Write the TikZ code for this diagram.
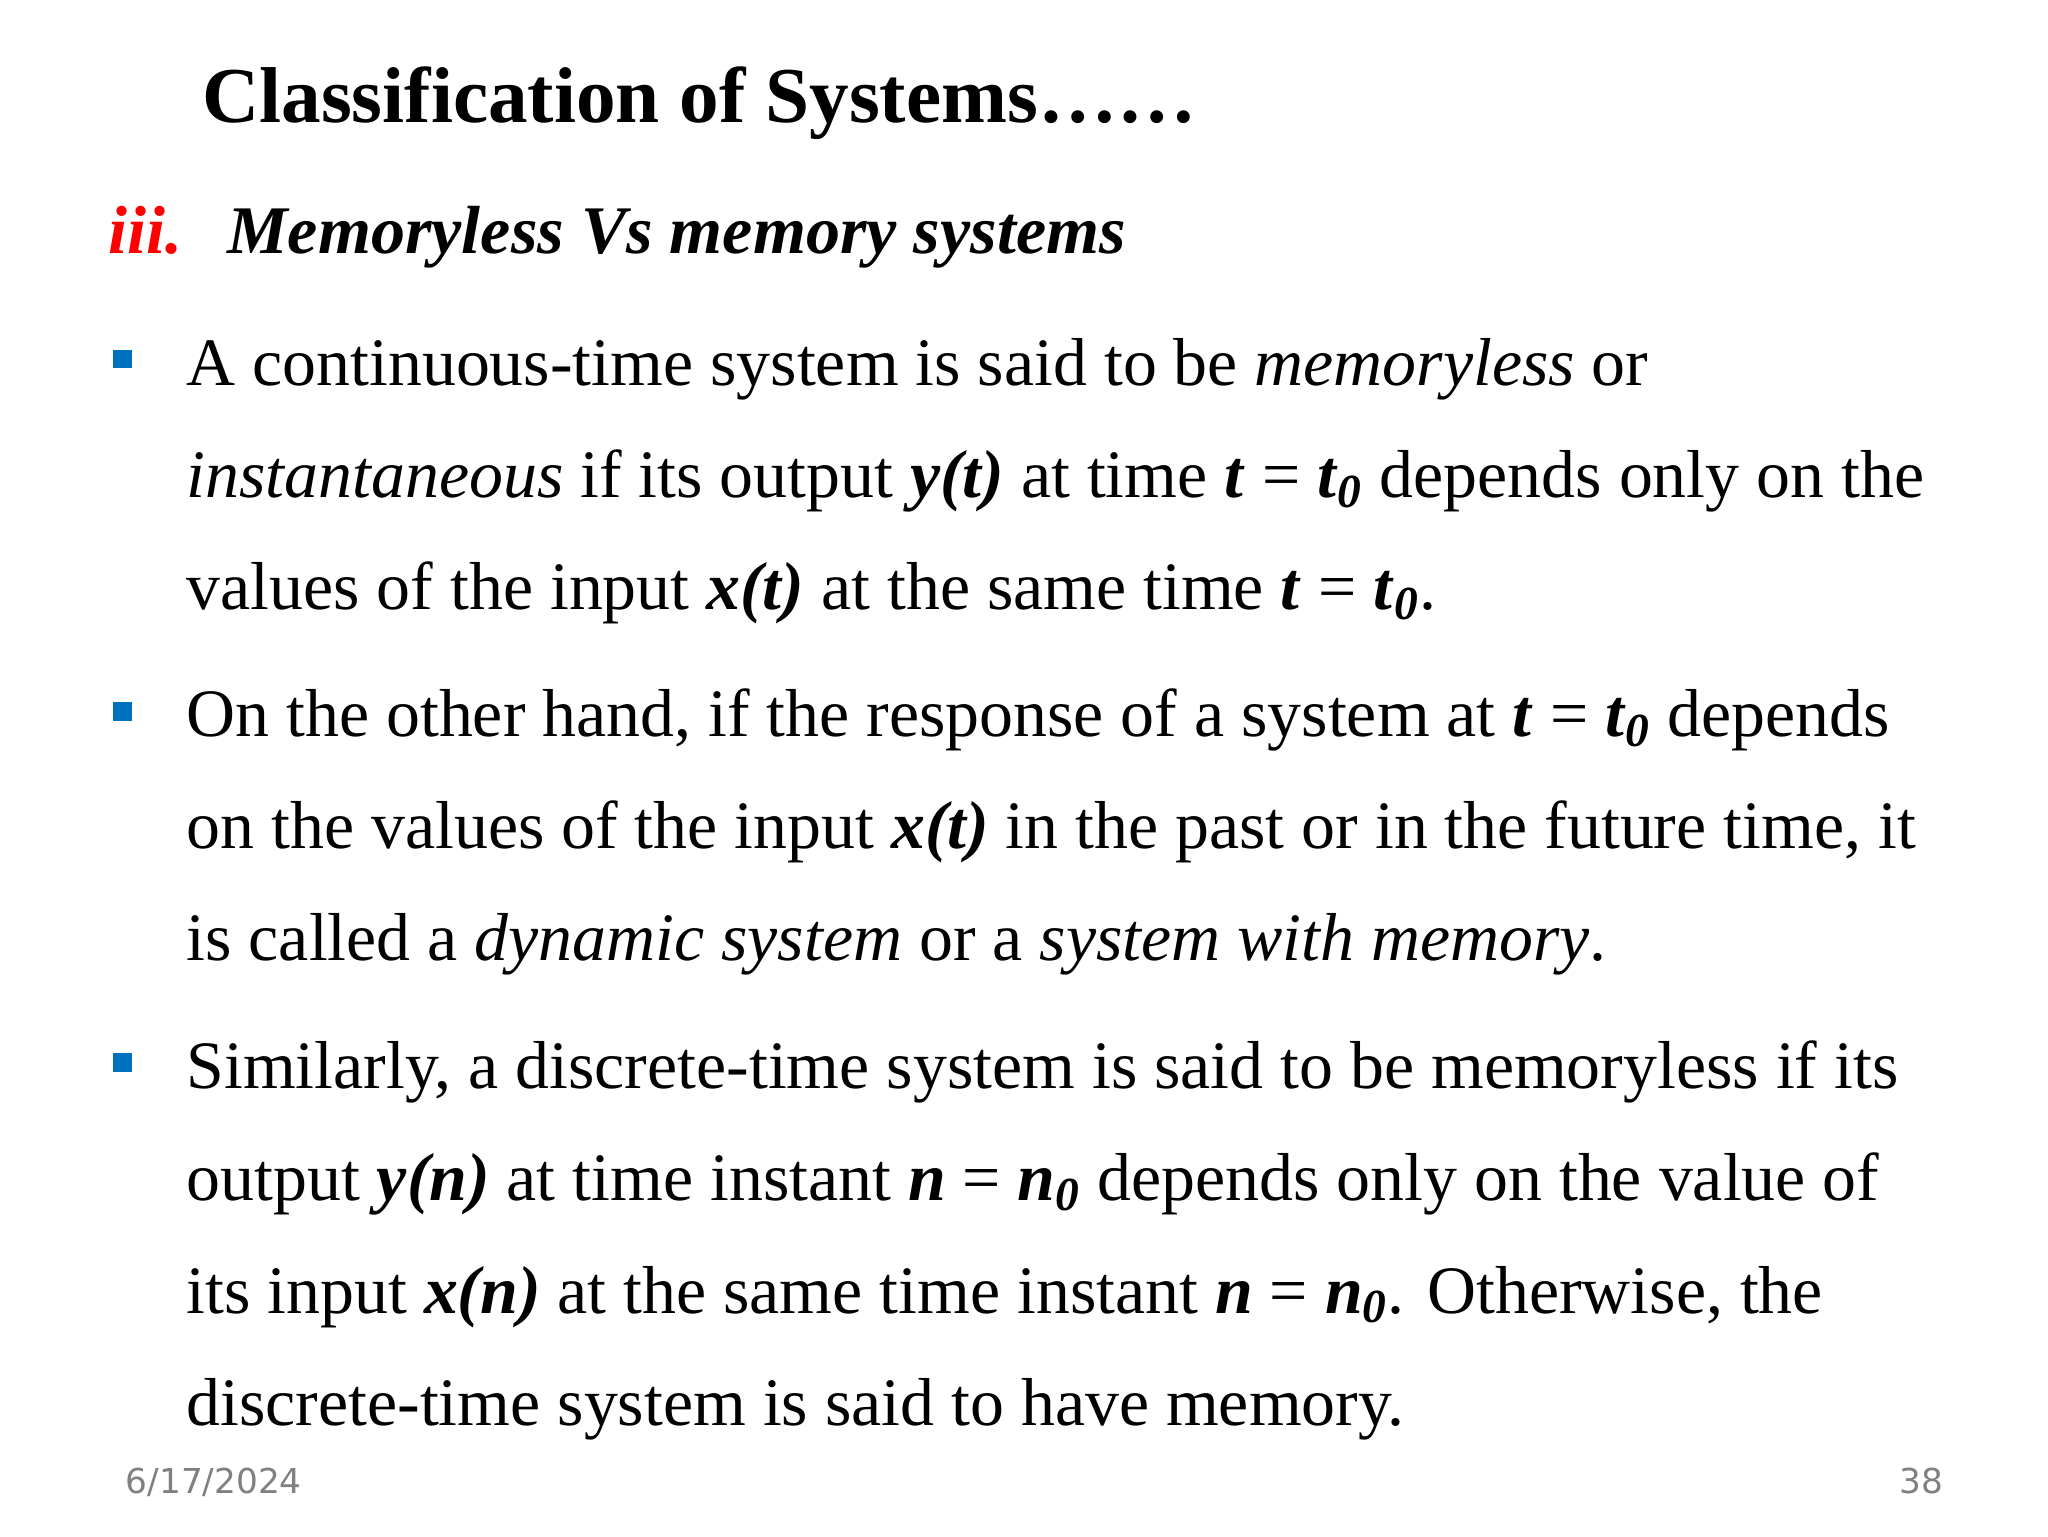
\documentclass[tikz,border=0pt]{standalone}
\usepackage{fontspec}
\setmainfont{Liberation Serif}
\newfontfamily\foot{DejaVu Sans}
\definecolor{bul}{RGB}{0,112,192}
\newcommand{\bi}[1]{\textbf{\textit{#1}}}
\newcommand{\sbz}{\textsubscript{\bi{0}}}
\begin{document}
\begin{tikzpicture}[x=0.5pt,y=-0.5pt,
  ln/.style={anchor=base west,inner sep=0,font=\fontsize{25.7}{30}\selectfont},
  bsq/.style={fill=bul,minimum size=7pt,inner sep=0}]
\useasboundingbox (0,0) rectangle (1552,1164);
\node[anchor=base west,inner sep=0,font=\fontsize{30}{34}\selectfont\bfseries] (title) at (153,93) {Classification of Systems……};
\node[anchor=base west,inner sep=0,font=\fontsize{25.8}{30}\selectfont\bfseries\itshape] (sub) at (82,192) {\textcolor{red}{iii.}\hspace{17pt}Memoryless Vs memory systems};
\node[bsq] (b1) at (93,272) {};
\node[bsq] (b2) at (93,539) {};
\node[bsq] (b3) at (93,805) {};
\node[ln] (l1) at (141,292) {A continuous-time system is said to be \textit{memoryless} or};
\node[ln] (l2) at (141,377) {\textit{instantaneous} if its output \bi{y(t)} at time \bi{t} = \bi{t}\sbz{} depends only on the};
\node[ln] (l3) at (141,462) {values of the input \bi{x(t)} at the same time \bi{t} = \bi{t}\sbz.};
\node[ln] (l4) at (141,558) {On the other hand, if the response of a system at \bi{t} = \bi{t}\sbz{} depends};
\node[ln] (l5) at (141,643) {on the values of the input \bi{x(t)} in the past or in the future time, it};
\node[ln] (l6) at (141,728) {is called a \textit{dynamic system} or a \textit{system with memory}.};
\node[ln] (l7) at (141,825) {Similarly, a discrete-time system is said to be memoryless if its};
\node[ln] (l8) at (141,910) {output \bi{y(n)} at time instant \bi{n} = \bi{n}\sbz{} depends only on the value of};
\node[ln] (l9) at (141,995) {its input \bi{x(n)} at the same time instant \bi{n} = \bi{n}\sbz. Otherwise, the};
\node[ln] (l10) at (141,1080) {discrete-time system is said to have memory.};
\node[anchor=base west,inner sep=0,font=\foot\fontsize{13}{15}\selectfont,text=gray] (date) at (95,1132) {6/17/2024};
\node[anchor=base east,inner sep=0,font=\foot\fontsize{13}{15}\selectfont,text=gray] (pg) at (1473,1132) {38};
\end{tikzpicture}
\end{document}
